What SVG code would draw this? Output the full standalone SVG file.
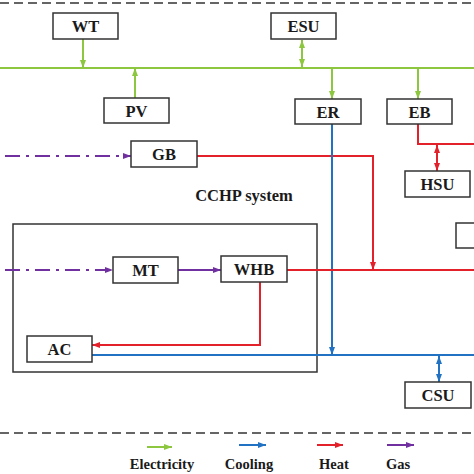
<svg xmlns="http://www.w3.org/2000/svg" width="474" height="474" viewBox="0 0 474 474">
<style>
.box{fill:#fff;stroke:#333;stroke-width:1.5}
.lbl{font-family:"Liberation Serif","Times New Roman",serif;font-weight:bold;font-size:16.5px;fill:#1a1a1a;text-anchor:middle;dominant-baseline:central}
.leg{font-family:"Liberation Serif","Times New Roman",serif;font-weight:bold;font-size:14.5px;fill:#1a1a1a;text-anchor:middle}
.g{stroke:#8DC63F;stroke-width:2;fill:none}
.b{stroke:#2272C3;stroke-width:2;fill:none}
.r{stroke:#E3212A;stroke-width:2;fill:none}
.p{stroke:#7030A0;stroke-width:2;fill:none}
.dd{stroke-dasharray:15 6 3 6}
.sep{stroke:#333;stroke-width:1.5;stroke-dasharray:9 5;fill:none}
</style>
<defs>
<marker id="ag" viewBox="0 0 8 6" refX="8" refY="3" markerWidth="8" markerHeight="6" markerUnits="userSpaceOnUse" orient="auto-start-reverse"><path d="M0,0 L8,3 L0,6 z" fill="#8DC63F"/></marker>
<marker id="ab" viewBox="0 0 8 6" refX="8" refY="3" markerWidth="8" markerHeight="6" markerUnits="userSpaceOnUse" orient="auto-start-reverse"><path d="M0,0 L8,3 L0,6 z" fill="#2272C3"/></marker>
<marker id="ar" viewBox="0 0 8 6" refX="8" refY="3" markerWidth="8" markerHeight="6" markerUnits="userSpaceOnUse" orient="auto-start-reverse"><path d="M0,0 L8,3 L0,6 z" fill="#E3212A"/></marker>
<marker id="ap" viewBox="0 0 8 6" refX="8" refY="3" markerWidth="8" markerHeight="6" markerUnits="userSpaceOnUse" orient="auto-start-reverse"><path d="M0,0 L8,3 L0,6 z" fill="#7030A0"/></marker>
</defs>
<rect width="474" height="474" fill="#fff"/>
<line class="sep" x1="0" y1="3" x2="474" y2="3"/>
<line class="sep" x1="0" y1="433" x2="474" y2="433"/>
<rect x="13" y="224" width="304" height="148" fill="none" stroke="#333" stroke-width="1.5"/>
<text class="lbl" x="244" y="195">CCHP system</text>
<g id="connectors">
<line class="g" x1="0" y1="68" x2="474" y2="68"/>
<line class="g" x1="83" y1="39" x2="83" y2="68" marker-end="url(#ag)"/>
<line class="g" x1="135" y1="98" x2="135" y2="68" marker-end="url(#ag)"/>
<line class="g" x1="302" y1="40" x2="302" y2="67" marker-start="url(#ag)" marker-end="url(#ag)"/>
<line class="g" x1="332" y1="68" x2="332" y2="99" marker-end="url(#ag)"/>
<line class="g" x1="418" y1="68" x2="418" y2="99" marker-end="url(#ag)"/>
<line class="p dd" x1="5" y1="156" x2="131" y2="156" marker-end="url(#ap)"/>
<polyline class="r" points="197,156 373,156 373,270" marker-end="url(#ar)"/>
<polyline class="r" points="418,124 418,144 474,144"/>
<line class="r" x1="437" y1="145" x2="437" y2="171" marker-start="url(#ar)" marker-end="url(#ar)"/>
<line class="b" x1="332" y1="124" x2="332" y2="355" marker-end="url(#ab)"/>
<line class="p dd" x1="5" y1="270" x2="113" y2="270" marker-end="url(#ap)"/>
<line class="p" x1="178" y1="270" x2="221" y2="270" marker-end="url(#ap)"/>
<line class="r" x1="287" y1="270" x2="474" y2="270"/>
<polyline class="r" points="260,282 260,345 92,345" marker-end="url(#ar)"/>
<line class="b" x1="92" y1="355" x2="474" y2="355"/>
<line class="b" x1="439" y1="356" x2="439" y2="382" marker-start="url(#ab)" marker-end="url(#ab)"/>
</g>
<g id="WT"><rect class="box" x="53" y="13" width="65" height="26"/><text class="lbl" x="85.5" y="26.5">WT</text></g>
<g id="ESU"><rect class="box" x="271" y="13" width="65" height="26"/><text class="lbl" x="303.5" y="26.5">ESU</text></g>
<g id="PV"><rect class="box" x="104" y="98" width="65" height="25"/><text class="lbl" x="136.5" y="111">PV</text></g>
<g id="ER"><rect class="box" x="295" y="99" width="66" height="25"/><text class="lbl" x="328" y="112">ER</text></g>
<g id="EB"><rect class="box" x="387" y="99" width="65" height="25"/><text class="lbl" x="419.5" y="112">EB</text></g>
<g id="GB"><rect class="box" x="131" y="141" width="66" height="26"/><text class="lbl" x="164" y="154.5">GB</text></g>
<g id="HSU"><rect class="box" x="405" y="171" width="65" height="26"/><text class="lbl" x="437.5" y="184.5">HSU</text></g>
<g id="partial"><rect class="box" x="456" y="223" width="30" height="25"/></g>
<g id="MT"><rect class="box" x="113" y="257" width="65" height="26"/><text class="lbl" x="145.5" y="270.5">MT</text></g>
<g id="WHB"><rect class="box" x="221" y="256" width="66" height="26"/><text class="lbl" x="254" y="269.5">WHB</text></g>
<g id="AC"><rect class="box" x="27" y="336" width="65" height="26"/><text class="lbl" x="59.5" y="349.5">AC</text></g>
<g id="CSU"><rect class="box" x="405" y="382" width="66" height="26"/><text class="lbl" x="438" y="395.5">CSU</text></g>
<g id="legend">
<line class="g" x1="147" y1="447" x2="172" y2="447" marker-end="url(#ag)"/>
<text class="leg" x="162" y="469">Electricity</text>
<line class="b" x1="239" y1="445" x2="266" y2="445" marker-end="url(#ab)"/>
<text class="leg" x="249" y="469">Cooling</text>
<line class="r" x1="317" y1="445" x2="343" y2="445" marker-end="url(#ar)"/>
<text class="leg" x="334" y="469">Heat</text>
<line class="p" x1="387" y1="445" x2="414" y2="445" marker-end="url(#ap)"/>
<text class="leg" x="398" y="469">Gas</text>
</g>
</svg>
